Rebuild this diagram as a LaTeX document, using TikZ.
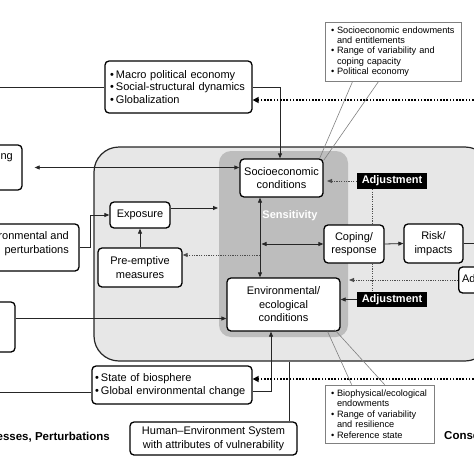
\documentclass[tikz,border=0pt]{standalone}
\usepackage{fontspec}
\setmainfont{Liberation Sans}
\usetikzlibrary{arrows.meta,calc}
\definecolor{sysfill}{gray}{0.905}
\definecolor{sensfill}{gray}{0.74}
\definecolor{linec}{gray}{0.15}
\definecolor{callc}{gray}{0.5}
\newcommand\bul{\makebox[6pt][l]{\textbullet}}
\newcommand\ind{\hspace*{6pt}}
\begin{document}
\begin{tikzpicture}[x=1pt,y=-1pt,
  >={Triangle[length=5pt,width=4pt]},
  box/.style={draw=black, line width=1.3pt, rounded corners=4pt, fill=white, inner sep=0pt, align=center, font=\fontsize{11}{13.5}\selectfont},
  bbox/.style={box, align=left, inner xsep=5pt, font=\fontsize{11}{12.7}\selectfont},
  callbox/.style={draw=callc, line width=0.7pt, fill=white, inner sep=0pt, align=left, inner xsep=6pt, font=\fontsize{9.2}{10.4}\selectfont},
  adjbox/.style={fill=black, text=white, inner sep=0pt, font=\fontsize{11}{13}\selectfont\bfseries},
  conn/.style={draw=linec, line width=0.8pt},
  calline/.style={draw=callc, line width=0.6pt},
  dotbig/.style={draw=black, line width=1.7pt, dash pattern=on 1.7pt off 1.5pt, -{Triangle[length=6pt,width=6pt]}},
  dotsmall/.style={draw=black!70, line width=0.9pt, dash pattern=on 1.2pt off 1.2pt},
  lbl/.style={font=\fontsize{11.5}{13}\selectfont\bfseries}
]
\useasboundingbox (0,0) rectangle (474,474);

% system and sensitivity regions
\node[draw=black!85, line width=1.2pt, fill=sysfill, rounded corners=25pt, minimum width=396, minimum height=214, inner sep=0pt] (sys) at (292,254) {};
\node[fill=sensfill, rounded corners=12pt, minimum width=129, minimum height=186, inner sep=0pt] (sens) at (283.5,244) {};
\node[font=\fontsize{11}{13}\selectfont\bfseries, text=white] (senslbl) at (290,216) {Sensitivity};

% boxes
\node[bbox, minimum width=147, minimum height=52, text width=137] (macro) at (178.5,87)
  {\bul Macro political economy\\\bul Social-structural dynamics\\\bul Globalization};
\node[callbox, minimum width=136, minimum height=59, text width=124] (cbtop) at (393,51.5)
  {\bul Socioeconomic endowments\\\ind and entitlements\\\bul Range of variability and\\\ind coping capacity\\\bul Political economy};
\node[box, minimum width=83, minimum height=38] (socio) at (281.5,178) {Socioeconomic\\conditions};
\node[box, minimum width=113, minimum height=53] (env) at (283.5,304.5) {Environmental/\\ecological\\conditions};
\node[box, minimum width=60, minimum height=26] (expo) at (140,215) {Exposure};
\node[box, minimum width=84, minimum height=39] (pre) at (140,267.5) {Pre-emptive\\measures};
\node[box, minimum width=60, minimum height=38] (coping) at (354,244) {Coping/\\response};
\node[box, minimum width=59, minimum height=39] (risk) at (433.5,243.5) {Risk/\\impacts};
\node[box, anchor=west, minimum height=26, inner xsep=3.5pt] (adapt) at (458,280) {Adaptation};
\node[adjbox, minimum width=70, minimum height=16] (adj1) at (392,181) {Adjustment};
\node[adjbox, minimum width=70, minimum height=15] (adj2) at (392,299.5) {Adjustment};

\node[box, minimum width=82, minimum height=45] (left1) at (-19,167.5) {};
\node[font=\fontsize{11}{13.5}\selectfont, anchor=east, inner sep=0pt] (left1t) at (13,157) {ing};
\node[box, minimum width=159, minimum height=47] (left2) at (-0.5,247.5) {};
\node[font=\fontsize{11}{13.5}\selectfont, anchor=east, align=right, inner sep=0pt] (left2t) at (69,243.5) {Environmental and\\perturbations};
\node[box, minimum width=75, minimum height=50] (left3) at (-22.5,327) {};

\node[bbox, minimum width=160, minimum height=38, text width=154, inner xsep=3pt] (state) at (172,385)
  {\bul State of biosphere\\\bul Global environmental change};
\node[box, minimum width=167, minimum height=33] (hes) at (213.5,438.5) {Human--Environment System\\with attributes of vulnerability};
\node[callbox, minimum width=109, minimum height=58, text width=97] (cbbot) at (379.5,414)
  {\bul Biophysical/ecological\\\ind endowments\\\bul Range of variability\\\ind and resilience\\\bul Reference state};

\node[lbl, anchor=east, inner sep=0pt] (lblL) at (110,437) {Stresses, Perturbations};
\node[lbl, anchor=west, inner sep=0pt] (lblR) at (444,437) {Consequences};

% helper coordinates
\coordinate (lftA) at (-5,87);
\coordinate (xm) at (280,0);
\coordinate (rA) at (480,100);
\coordinate (sensW) at (218,208);
\coordinate (vd) at (260,255);
\coordinate (vx) at (260,0);
\coordinate (hx) at (261.5,0);
\coordinate (rB) at (480,243.5);
\coordinate (sx) at (327,0);
\coordinate (ax) at (372,0);
\coordinate (l3y) at (0,318.5);
\coordinate (sy) at (0,391);
\coordinate (ex) at (271,0);
\coordinate (rC) at (480,379);
\coordinate (lftB) at (-5,392);
\coordinate (hx2) at (289,0);
\coordinate (sensE) at (349,0);

% connectors
\draw[conn] (lftA) -- (macro.west |- lftA);
\draw[conn,->] (macro.east) -| (socio.north -| xm);
\draw[dotbig] (rA) -- (rA -| macro.east);
\draw[calline] ([xshift=28pt]cbtop.south west) -- ([xshift=-4pt]socio.north east);
\draw[calline] ([xshift=54pt]cbtop.south west) -- ([yshift=-2pt]socio.north east);
\draw[conn,<->, shorten <=12pt] (left1.east) -- (socio.west |- left1.east);
\draw[conn,->] (left2.east) -- ++(11,0) |- (expo.west);
\draw[conn,->] ([yshift=7pt]expo.east) -- (sensW);
\draw[conn,->] (pre.north) -- (expo.south);
\draw[dotsmall,->] (vd) -- (vd -| pre.east);
\draw[conn,<->] (socio.south -| vx) -- (env.north -| vx);
\draw[conn,<->] (hx |- coping.west) -- (coping.west);
\draw[conn,->] (coping.east) -- (risk.west);
\draw[conn] (risk.east) -- (rB);
\draw[dotsmall,->] (adapt.west) -- (sensE |- adapt.west);
\draw[dotsmall,->] (adj1.west) -- (sx |- adj1.west);
\draw[dotsmall] (adj1.south -| ax) -- (coping.north -| ax);
\draw[dotsmall] (coping.south -| ax) -- (adj2.north -| ax);
\draw[conn,->] (adj2.west) -- (env.east |- adj2.west);
\draw[conn,->] (left3.east |- l3y) -- (env.west |- l3y);
\draw[conn,->] (state.east |- sy) -| (env.south -| ex);
\draw[dotbig] (rC) -- (rC -| state.east);
\draw[conn] (lftB) -- (lftB -| state.west);
\draw[conn] (hes.north -| hx2) -- (sys.south -| hx2);
\draw[calline] ([xshift=27pt]cbbot.north west) -- ([xshift=-13pt]env.south east);
\draw[calline] ([xshift=60pt]cbbot.north west) -- ([xshift=-6pt,yshift=2pt]env.south east);
\end{tikzpicture}
\end{document}
